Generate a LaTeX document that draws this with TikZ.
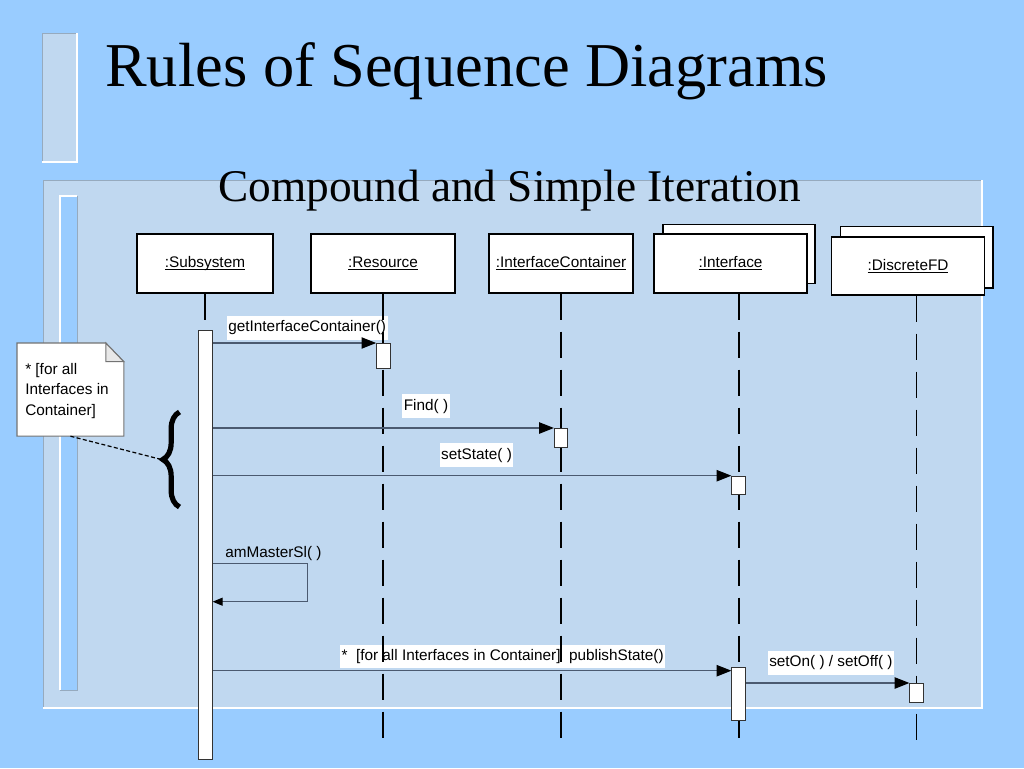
\documentclass[tikz,border=0pt]{standalone}
\usepackage{fontspec}
\setmainfont{Liberation Serif}
\setsansfont{Liberation Sans}
\usepackage{xcolor}
\usepackage{tikz}
\usetikzlibrary{positioning,calc,arrows.meta,decorations.pathreplacing}

\definecolor{slidebg}{RGB}{153,204,255}
\definecolor{panelbg}{RGB}{192,216,240}
\definecolor{edgegray}{RGB}{150,170,190}
\definecolor{msgline}{RGB}{75,90,112}
\definecolor{foldgray}{RGB}{232,232,232}

\newcommand{\diagfont}{\sffamily\fontsize{11.5}{15.4}\selectfont}
\newcommand{\objname}[1]{\underline{\raisebox{0pt}[\height][0pt]{#1}}}

\tikzset{
  head/.style={draw=black, line width=1pt, fill=white, inner sep=0pt,
    minimum height=44.25pt, font=\diagfont},
  lifeline/.style={draw=black, line width=1.1pt, dash pattern=on 19.5pt off 9pt},
  act/.style={draw=black!80, line width=0.6pt, fill=white, inner sep=0pt,
    minimum width=10.1pt, anchor=north},
  msg/.style={draw=msgline, line width=0.8pt,
    -{Triangle[length=11pt, width=8.5pt, fill=black, color=black]}},
  selfmsg/.style={draw=msgline, line width=0.8pt,
    -{Triangle[length=7.5pt, width=6pt, fill=black, color=black]}},
  msglabel/.style={fill=white, inner xsep=1.2pt, inner ysep=3.5pt,
    text height=8.4pt, text depth=2.4pt, font=\diagfont},
  notebox/.style={draw=black!55, line width=0.8pt, fill=white},
}

\begin{document}
\begin{tikzpicture}[x=0.75pt,y=-0.75pt]
    % Slide
    \fill[slidebg] (0,0) rectangle (1024,768);
    \useasboundingbox (0,0) rectangle (1024,768);
    \fill[panelbg] (42,33) rectangle (77,162);
    \draw[edgegray] (42,162) -- (42,33) -- (77,33);
    \draw[white, line width=1.5pt] (77,33) -- (77,162) -- (42,162);
    \fill[panelbg] (43,180) rectangle (982,708);
    \draw[edgegray] (43,708) -- (43,180) -- (982,180);
    \draw[white, line width=1.5pt] (982,180) -- (982,708) -- (43,708);
    \fill[slidebg] (60,196) rectangle (77,690);
    \draw[white, line width=1.5pt] (60,690) -- (60,196) -- (77,196);
    \draw[edgegray] (77,196) -- (77,690) -- (60,690);

    % Titles
    \node[anchor=base west, inner sep=0pt, font=\fontsize{46.8}{50}\selectfont] (title) at (105,86) {Rules of Sequence Diagrams};
    \node[anchor=base west, inner sep=0pt, font=\fontsize{34}{38}\selectfont] (subtitle) at (218,201.7) {Compound and Simple Iteration};

    % Objects
    \node[head, minimum width=102pt] (sub) at (205,263.5) {\objname{:Subsystem}};
    \node[head, minimum width=108pt] (res) at (383,263.5) {\objname{:Resource}};
    \node[head, minimum width=108pt] (ifc) at (561,263.5) {\objname{:InterfaceContainer}};
    \node[head, minimum width=114pt] (intfback) at (739,254) {};
    \node[head, minimum width=114.75pt] (intf) at (730.5,263.5) {\objname{:Interface}};
    \node[head, minimum width=114.4pt, minimum height=46pt] (dfdback) at (916.75,257.25) {};
    \node[head, minimum width=114.75pt, minimum height=43.5pt] (dfd) at (908,266) {\objname{:DiscreteFD}};

    % Message labels
    \node[msglabel] (getlbl) at (307.2,327.8) {getInterfaceContainer()};
    \node[msglabel] (findlbl) at (426,406.2) {Find( )};
    \node[msglabel] (setlbl) at (476.5,455) {setState( )};
    \node[anchor=base west, inner sep=0pt, font=\diagfont] (masterlbl) at (225,557) {amMasterSl( )};
    \node[msglabel] (publbl) at (502.6,656.5) {*\ \ [for all Interfaces in Container]\ \ publishState()};
    \node[msglabel] (onofflbl) at (830.9,662.8) {setOn( ) / setOff( )};

    % Lifelines
    \coordinate (lifeend) at (0,748);
    \draw[lifeline] (sub.south) -- (sub.south |- lifeend);
    \draw[lifeline] (res.south) -- (res.south |- lifeend);
    \draw[lifeline] (ifc.south) -- (ifc.south |- lifeend);
    \draw[lifeline] (intfback.south |- intf.south) -- (intfback.south |- lifeend);
    \draw[lifeline] (dfdback.south |- dfd.south) -- (dfdback.south |- lifeend);

    % Activations
    \node[act, minimum height=321.75pt] (subact) at (205.5,330) {};
    \node[act, minimum height=18.75pt] (resact) at (383.3,343) {};
    \node[act, minimum height=14.6pt] (ifcact) at (561,428) {};
    \node[act, minimum height=14pt] (intfact) at (738.5,475.7) {};
    \node[act, minimum height=40pt] (pubact) at (738.5,666.7) {};
    \node[act, minimum height=14.25pt] (dfdact) at (916.5,683) {};

    % Messages
    \draw[msg] (subact.east |- resact.north west) -- (resact.north west);
    \draw[msg] (subact.east |- ifcact.north west) -- (ifcact.north west);
    \draw[msg] (subact.east |- intfact.north west) -- (intfact.north west);
    \coordinate (selftop) at (307.7,563.3);
    \coordinate (selfbot) at (307.7,601.7);
    \draw[selfmsg] (subact.east |- selftop) -- (selftop) -- (selfbot) -- (subact.east |- selfbot);
    \coordinate (pubrow) at (0,670.7);
    \draw[msg] (subact.east |- pubrow) -- (pubact.west |- pubrow);
    \draw[msg] (pubact.east |- dfdact.north west) -- (dfdact.north west);

    % Note and brace
    \node[minimum width=79.7pt, minimum height=69.5pt, inner sep=0pt, anchor=north west] (note) at (17,343) {};
    \draw[notebox] (note.north west) -- ($(note.north east)+(-18,0)$) -- ($(note.north east)+(0,18.7)$) -- (note.south east) -- (note.south west) -- cycle;
    \draw[notebox, fill=foldgray] ($(note.north east)+(-18,0)$) |- ($(note.north east)+(0,18.7)$) -- cycle;
    \node[anchor=north west, inner sep=0pt, align=left, font=\diagfont] (notetext) at (25,363) {* [for all\\Interfaces in\\Container]};
    \coordinate (bracebot) at (179.5,507);
    \coordinate (bracetop) at (179.5,412);
    \coordinate (bracetip) at (161.5,459.5);
    \draw[line width=3.9pt, decorate, decoration={brace, amplitude=12.5pt}] (bracebot) -- (bracetop);
    \draw[line width=0.9pt, dash pattern=on 3pt off 1.8pt] (note.south) -- (bracetip);
\end{tikzpicture}
\end{document}
